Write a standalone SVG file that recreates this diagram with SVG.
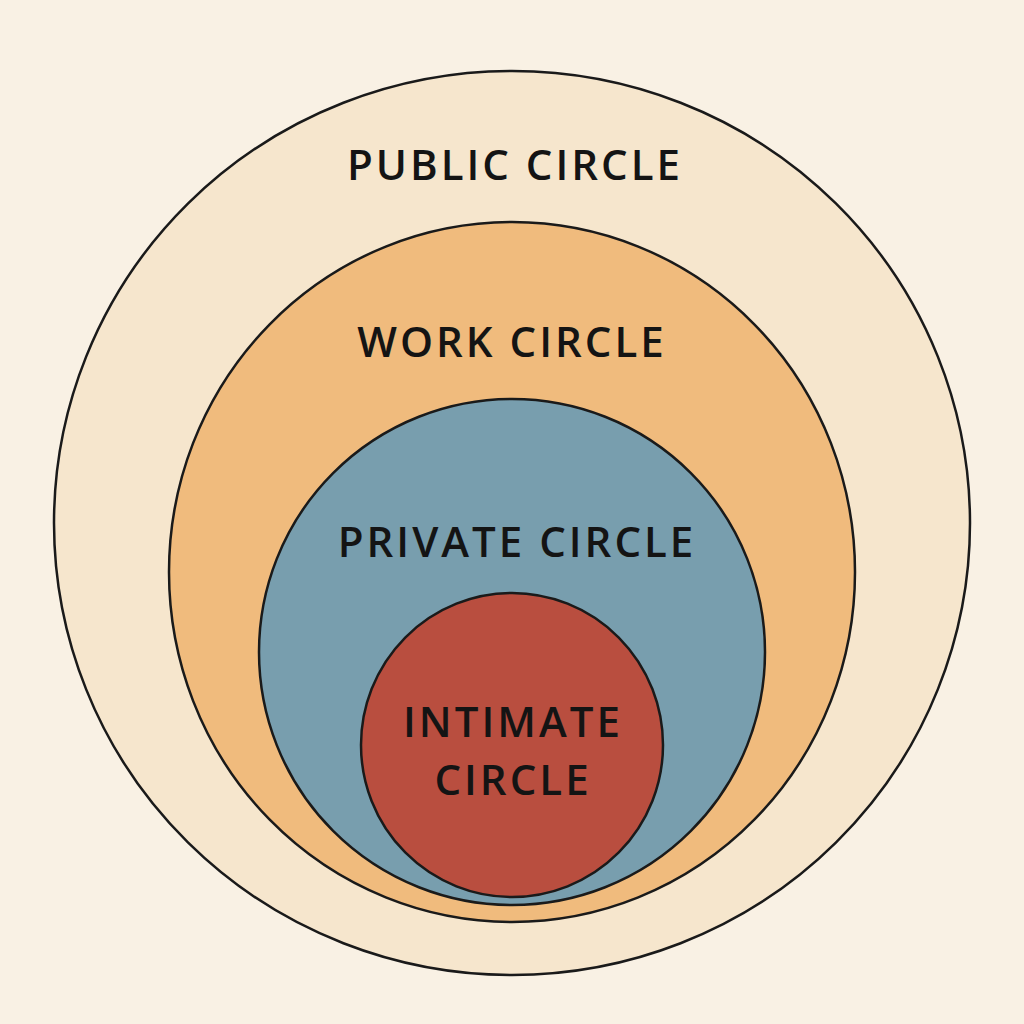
<svg xmlns="http://www.w3.org/2000/svg" width="1024" height="1024" viewBox="0 0 1024 1024">
<style>
.c{stroke:#1a1a1a;stroke-width:2.5}
text{font-family:"Open Sans","DejaVu Sans",sans-serif;font-weight:600;font-size:42px;fill:#141414;text-anchor:middle;dominant-baseline:central;letter-spacing:3px}
</style>
<rect width="1024" height="1024" fill="#f9f1e4"/>
<g id="public"><ellipse class="c" cx="512" cy="523" rx="458" ry="452" fill="#f6e6cd"/><text x="515" y="163">PUBLIC CIRCLE</text></g>
<g id="work"><ellipse class="c" cx="512" cy="572" rx="343" ry="350" fill="#f0bb7d"/><text x="512" y="340">WORK CIRCLE</text></g>
<g id="private"><ellipse class="c" cx="512" cy="652" rx="253" ry="253" fill="#789eae"/><text x="517" y="540">PRIVATE CIRCLE</text></g>
<g id="intimate"><ellipse class="c" cx="512" cy="745" rx="151" ry="152" fill="#b94e3f"/><text x="513" y="720">INTIMATE</text><text x="513" y="778">CIRCLE</text></g>
<g id="connectors"/>
</svg>
